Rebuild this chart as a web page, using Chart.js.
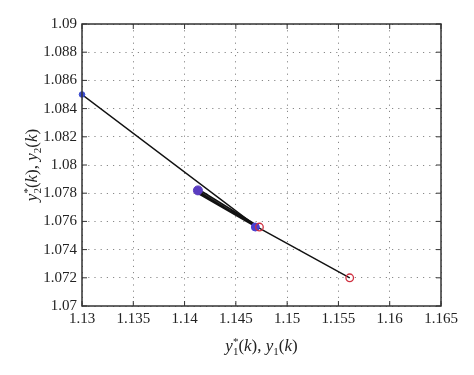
<!DOCTYPE html>
<html><head><meta charset="utf-8">
<script src="https://cdn.jsdelivr.net/npm/chart.js@4/dist/chart.umd.min.js"></script>
<style>html,body{margin:0;padding:0;background:#fff}#wrap{width:474px;height:375px}</style>
</head><body><div id="wrap"><canvas id="c" width="474" height="375"></canvas></div>
<script>
const xTickValues = [1.13, 1.135, 1.14, 1.145, 1.15, 1.155, 1.16, 1.165];
const xTickLabels = ["1.13", "1.135", "1.14", "1.145", "1.15", "1.155", "1.16", "1.165"];
const yTickValues = [1.07, 1.072, 1.074, 1.076, 1.078, 1.08, 1.082, 1.084, 1.086, 1.088, 1.09];
const yTickLabels = ["1.07", "1.072", "1.074", "1.076", "1.078", "1.08", "1.082", "1.084", "1.086", "1.088", "1.09"];

const trajX = [1.13, 1.1471, 1.1561];
const trajY = [1.085, 1.0756, 1.0720];
const wedgeX = [1.1413, 1.1471, 1.1413, 1.1470, 1.1414];
const wedgeY = [1.0783, 1.0757, 1.0780, 1.0756, 1.0781];
const blueX = [1.13, 1.1413, 1.1469];
const blueY = [1.085, 1.0782, 1.0756];
const redX = [1.1473, 1.1561];
const redY = [1.0756, 1.0720];

const pts = (xs, ys) => xs.map((x, i) => ({x: x, y: ys[i]}));
const FONT = "'Liberation Serif', 'DejaVu Serif', serif";

const framePlugin = {
  id: 'frame',
  afterDraw(chart) {
    const {ctx, chartArea: a, scales} = chart;
    ctx.save();
    ctx.strokeStyle = '#333';
    ctx.lineWidth = 1.5;
    ctx.strokeRect(a.left, a.top, a.right - a.left, a.bottom - a.top);
    ctx.lineWidth = 1;
    const L = 5;
    xTickValues.forEach(v => {
      const px = scales.x.getPixelForValue(v);
      ctx.beginPath(); ctx.moveTo(px, a.bottom); ctx.lineTo(px, a.bottom - L); ctx.stroke();
      ctx.beginPath(); ctx.moveTo(px, a.top); ctx.lineTo(px, a.top + L); ctx.stroke();
    });
    yTickValues.forEach(v => {
      const py = scales.y.getPixelForValue(v);
      ctx.beginPath(); ctx.moveTo(a.left, py); ctx.lineTo(a.left + L, py); ctx.stroke();
      ctx.beginPath(); ctx.moveTo(a.right, py); ctx.lineTo(a.right - L, py); ctx.stroke();
    });
    const drawTitle = (parts, cx, cy, rot) => {
      ctx.save();
      ctx.translate(cx, cy);
      if (rot) ctx.rotate(rot);
      ctx.fillStyle = '#222';
      ctx.textBaseline = 'alphabetic';
      const big = "italic 17px " + FONT, bigN = "17px " + FONT, small = "11px " + FONT;
      let w = 0;
      const items = parts.map(p => {
        ctx.font = p.f === 'i' ? big : (p.f === 'n' ? bigN : small);
        let wd = ctx.measureText(p.t).width;
        if (p.sub !== undefined) {
          ctx.font = small;
          wd = Math.max(ctx.measureText(p.sub).width, p.sup ? ctx.measureText(p.sup).width : 0);
        }
        w += wd;
        return wd;
      });
      let x = -w / 2;
      parts.forEach((p, i) => {
        if (p.sub !== undefined) {
          ctx.font = small;
          ctx.fillText(p.sub, x, 9);
          if (p.sup) ctx.fillText(p.sup, x, -1);
        } else {
          ctx.font = p.f === 'i' ? big : bigN;
          ctx.fillText(p.t, x, 5);
        }
        x += items[i];
      });
      ctx.restore();
    };
    const xt = [
      {t: 'y', f: 'i'}, {sub: '1', sup: '*'}, {t: '(', f: 'n'}, {t: 'k', f: 'i'}, {t: '), ', f: 'n'},
      {t: 'y', f: 'i'}, {sub: '1'}, {t: '(', f: 'n'}, {t: 'k', f: 'i'}, {t: ')', f: 'n'}
    ];
    const yt = [
      {t: 'y', f: 'i'}, {sub: '2', sup: '*'}, {t: '(', f: 'n'}, {t: 'k', f: 'i'}, {t: '), ', f: 'n'},
      {t: 'y', f: 'i'}, {sub: '2'}, {t: '(', f: 'n'}, {t: 'k', f: 'i'}, {t: ')', f: 'n'}
    ];
    drawTitle(xt, (a.left + a.right) / 2, 346, 0);
    drawTitle(yt, 32, (a.top + a.bottom) / 2, -Math.PI / 2);
    ctx.restore();
  }
};

new Chart(document.getElementById('c'), {
  type: 'scatter',
  data: {
    datasets: [
      {data: pts(trajX, trajY), showLine: true, borderColor: '#111', borderWidth: 1.4, pointRadius: 0, order: 3},
      {data: pts(wedgeX, wedgeY), showLine: true, borderColor: '#111', borderWidth: 1.6, pointRadius: 0, order: 3},
      {data: pts(blueX, blueY), showLine: false, clip: false, pointRadius: [2.8, 4.5, 4], backgroundColor: ['#3a4bd0', '#5a3cc0', '#4a3fd0'], borderColor: ['#3a4bd0', '#5a3cc0', '#4a3fd0'], borderWidth: 1, order: 2},
      {data: pts(redX, redY), showLine: false, clip: false, pointRadius: 3.8, backgroundColor: 'rgba(0,0,0,0)', borderColor: '#d03040', borderWidth: 1.3, order: 1}
    ]
  },
  options: {
    responsive: false,
    animation: false,
    events: [],
    layout: {padding: {top: 24, right: 33, left: 0, bottom: 0}},
    plugins: {legend: {display: false}, tooltip: {enabled: false}},
    scales: {
      x: {
        type: 'linear', min: 1.13, max: 1.165,
        afterBuildTicks: s => { s.ticks = xTickValues.map(v => ({value: v})); },
        afterFit: s => { s.height = 69; },
        ticks: {
          autoSkip: false, maxRotation: 0, padding: 4, color: '#222',
          font: {family: FONT, size: 15},
          callback: (v) => { const i = xTickValues.findIndex(t => Math.abs(t - v) < 1e-9); return i >= 0 ? xTickLabels[i] : ''; }
        },
        grid: {color: '#888', lineWidth: 1, drawTicks: false, tickLength: 0},
        border: {display: false, dash: [1.2, 5]}
      },
      y: {
        type: 'linear', min: 1.07, max: 1.09,
        afterBuildTicks: s => { s.ticks = yTickValues.map(v => ({value: v})); },
        afterFit: s => { s.width = 82; },
        ticks: {
          autoSkip: false, padding: 5, color: '#222',
          font: {family: FONT, size: 15},
          callback: (v) => { const i = yTickValues.findIndex(t => Math.abs(t - v) < 1e-9); return i >= 0 ? yTickLabels[i] : ''; }
        },
        grid: {color: '#888', lineWidth: 1, drawTicks: false, tickLength: 0},
        border: {display: false, dash: [1.2, 5]}
      }
    }
  },
  plugins: [framePlugin]
});
</script></body></html>
